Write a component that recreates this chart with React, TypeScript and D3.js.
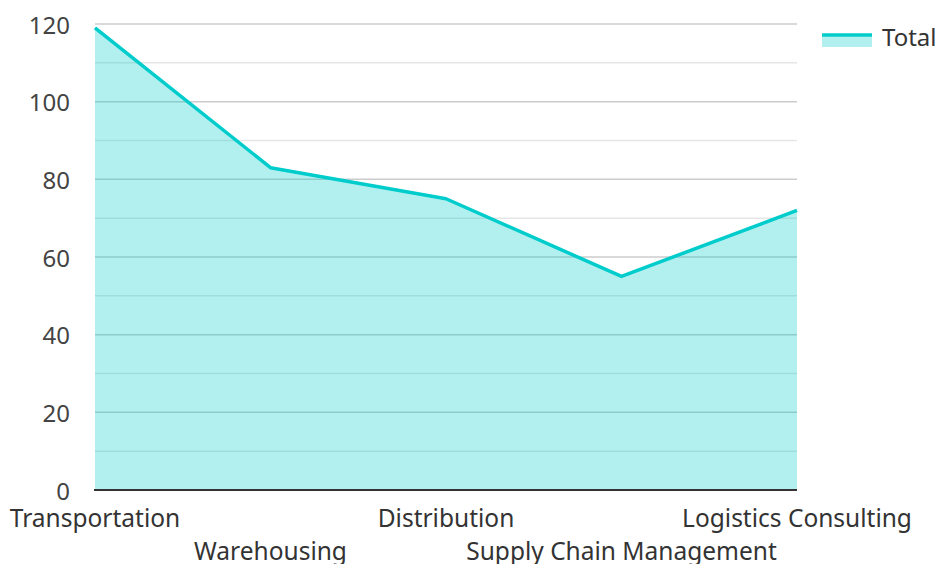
import React from "react";
import * as d3 from "d3";

const categories = ["Transportation", "Warehousing", "Distribution", "Supply Chain Management", "Logistics Consulting"];
const totals = [119, 83, 75, 55, 72];
const yTicks = [0, 20, 40, 60, 80, 100, 120];
const yMinorTicks = [10, 30, 50, 70, 90, 110];
const seriesName = "Total";

const W = 938;
const H = 564;
const left = 95;
const right = 797;
const top = 24;
const bottom = 490;
const FONT = "'Noto Sans', sans-serif";
const LINE = "#00cccc";

export default function App() {
  const x = d3.scalePoint<string>().domain(categories).range([left, right]);
  const y = d3.scaleLinear().domain([0, 120]).range([bottom, top]);
  const data = categories.map((c, i) => ({ c, v: totals[i] }));
  const line = d3.line<{ c: string; v: number }>().x(d => x(d.c)!).y(d => y(d.v));
  const area = d3.area<{ c: string; v: number }>().x(d => x(d.c)!).y0(y(0)).y1(d => y(d.v));

  return (
    <svg width={W} height={H} style={{ position: "absolute", left: 0, top: 0 }} fontFamily={FONT}>
      {yMinorTicks.map(t => (
        <line key={"m" + t} x1={left} x2={right} y1={y(t)} y2={y(t)} stroke="#e6e6e6" strokeWidth={1.5} />
      ))}
      {yTicks.filter(t => t > 0).map(t => (
        <line key={"g" + t} x1={left} x2={right} y1={y(t)} y2={y(t)} stroke="#cccccc" strokeWidth={1.5} />
      ))}
      <path d={area(data)!} fill="rgba(0,204,204,0.3)" />
      <path d={line(data)!} fill="none" stroke={LINE} strokeWidth={3.5} strokeLinejoin="round" />
      <line x1={left - 1} x2={right} y1={y(0)} y2={y(0)} stroke="#333" strokeWidth={2} />
      {yTicks.map(t => (
        <text key={"t" + t} x={70} y={y(t)} textAnchor="end" dominantBaseline="central" fontSize={24} fill="#444">
          {t}
        </text>
      ))}
      {categories.map((c, i) => (
        <text key={c} x={x(c)!} y={i % 2 === 0 ? 527 : 560} textAnchor="middle" fontSize={24.5} fill="#333">
          {c}
        </text>
      ))}
      <rect x={822} y={34} width={50} height={13} fill="rgba(0,204,204,0.3)" />
      <line x1={822} x2={872} y1={35} y2={35} stroke={LINE} strokeWidth={3.5} />
      <text x={882} y={36} dominantBaseline="central" fontSize={24} fill="#333">
        {seriesName}
      </text>
    </svg>
  );
}
